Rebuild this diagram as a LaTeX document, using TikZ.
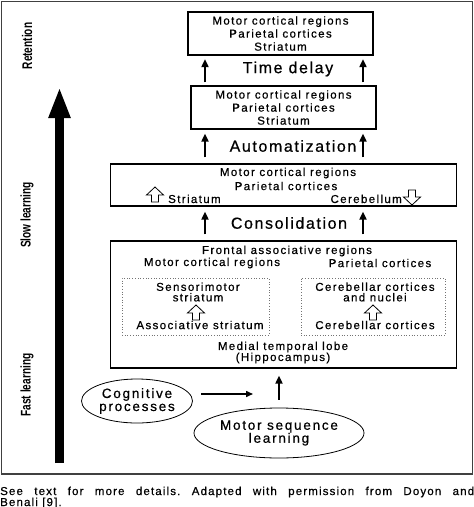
\documentclass[tikz,border=0pt]{standalone}
\usepackage{fontspec}
\setmainfont{Liberation Sans}
\newfontfamily\boxfont{Liberation Sans}[LetterSpace=12, FakeBold=0.6]
\newfontfamily\widefont{Liberation Sans}[LetterSpace=10, FakeBold=0.6]
\newfontfamily\ovalfont{Liberation Sans}[LetterSpace=13, FakeBold=0.6]
\newfontfamily\sidefont{Liberation Sans}[FakeStretch=0.72]
\usetikzlibrary{arrows.meta, positioning, shapes.geometric}

\tikzset{
	hollowup/.pic={
		\draw[line width=0.8pt, fill=white] (-3.5,0) -- (-3.5,-7) -- (-8.5,-7) -- (0,-15) -- (8.5,-7) -- (3.5,-7) -- (3.5,0) -- cycle;
	},
	hollowdown/.pic={
		\draw[line width=0.8pt, fill=white] (-3.5,0) -- (-3.5,7) -- (-8.5,7) -- (0,15) -- (8.5,7) -- (3.5,7) -- (3.5,0) -- cycle;
	}
}

\begin{document}
\begin{tikzpicture}[
		x=1pt, y=-1pt,
		region/.style={
			draw,
			line width=1.2pt,
			inner sep=0pt,
			align=center,
			font=\boxfont\fontsize{11.5}{13}\selectfont
		},
		subregion/.style={
			draw=black!55,
			dotted,
			line width=0.7pt,
			minimum height=57pt,
			inner sep=0pt
		},
		label/.style={
			inner sep=0pt,
			align=center,
			font=\boxfont\fontsize{11.5}{10.5}\selectfont
		},
		stage/.style={
			inner sep=0pt,
			font=\widefont\fontsize{16}{16}\selectfont
		},
		process/.style={
			draw,
			ellipse,
			line width=0.8pt,
			inner sep=0pt,
			align=center,
			font=\ovalfont\fontsize{13.5}{13}\selectfont
		},
		phase/.style={
			rotate=90,
			inner sep=0pt,
			font=\sidefont\bfseries\fontsize{14}{14}\selectfont
		},
		uparrow/.style={-{Triangle[length=8pt, width=7pt]}, line width=1.8pt}
		]
		
		\useasboundingbox (0,0) rectangle (474,507);
		\draw[line width=1.3pt, black!75] (1.5,1.2) rectangle (472.6,474);
		
		% stages, from late to early
		\node[region, minimum width=185pt, minimum height=43pt] (retained) at (280.5,33.5) {Motor cortical regions\\Parietal cortices\\Striatum};
		\node[region, minimum width=185pt, minimum height=43pt] (automatic) at (283.5,107.5) {Motor cortical regions\\Parietal cortices\\Striatum};
		\node[region, minimum width=346pt, minimum height=42pt] (consolidated) at (283.7,185) {};
		\node[region, minimum width=346pt, minimum height=127pt] (early) at (283.7,304.5) {};
		
		\node[label] (cons1) at (288,173) {Motor cortical regions};
		\node[label] (cons2) at (286,186) {Parietal cortices};
		\node[label, anchor=base west] (cons3) at (168,203) {Striatum};
		\node[label, anchor=base east] (cons4) at (402,203) {Cerebellum};
		\pic at (155,202) {hollowup};
		\pic at (412,190) {hollowdown};
		
		\node[label] (early1) at (287,251) {Frontal associative regions};
		\node[label] (early2) at (212,263) {Motor cortical regions};
		\node[label] (early3) at (380,263) {Parietal cortices};
		\node[subregion, minimum width=147pt] (striat) at (195.5,306.5) {};
		\node[subregion, minimum width=144pt] (cereb) at (373,306.5) {};
		\node[label] (striat1) at (198,292) {Sensorimotor\\striatum};
		\pic at (196,320) {hollowup};
		\node[label] (striat2) at (200,325) {Associative striatum};
		\node[label] (cereb1) at (375,292) {Cerebellar cortices\\and nuclei};
		\pic at (373,320) {hollowup};
		\node[label] (cereb2) at (375,325) {Cerebellar cortices};
		\node[label, font=\boxfont\fontsize{11.5}{11}\selectfont] (mtl) at (283,352.5) {Medial temporal lobe\\(Hippocampus)};
		
		\node[stage] (delay) at (288,69) {Time delay};
		\node[stage] (autom) at (293,146) {Automatization};
		\node[stage] (consol) at (289,223) {Consolidation};
		
		\node[process, minimum width=111pt, minimum height=44pt] (cognitive) at (137,401) {Cognitive\\processes};
		\node[process, minimum width=170pt, minimum height=50pt] (sequence) at (279,433) {Motor sequence\\learning};
		
		\coordinate (lft) at (205,0);
		\coordinate (rgt) at (363,0);
		\draw[uparrow, shorten <=3pt, shorten >=3.5pt] (automatic.north -| lft) -- (retained.south -| lft);
		\draw[uparrow, shorten <=3pt, shorten >=3.5pt] (automatic.north -| rgt) -- (retained.south -| rgt);
		\draw[uparrow, shorten <=6pt, shorten >=4pt] (consolidated.north -| lft) -- (automatic.south -| lft);
		\draw[uparrow, shorten <=6pt, shorten >=4pt] (consolidated.north -| rgt) -- (automatic.south -| rgt);
		\draw[uparrow, shorten <=6pt, shorten >=5pt] (early.north -| lft) -- (consolidated.south -| lft);
		\draw[uparrow, shorten <=6pt, shorten >=5pt] (early.north -| rgt) -- (consolidated.south -| rgt);
		
		\coordinate (cogend) at (253,394);
		\coordinate (cogstart) at (201,394);
		\draw[-{Triangle[length=7pt, width=6pt]}, line width=1.5pt] (cogstart) -- (cogend);
		\draw[uparrow, shorten <=8pt, shorten >=7pt] (sequence.north) -- (early.south -| sequence.north);
		
		% time axis
		\coordinate (axbot) at (59.5,463);
		\coordinate (axtop) at (59.5,87);
		\draw[line width=9.5pt, -{Triangle[length=31pt, width=20pt]}] (axbot) -- (axtop);
		\node[phase] (ret) at (27,46) {Retention};
		\node[phase] (slow) at (27,215) {Slow learning};
		\node[phase] (fast) at (27,385) {Fast learning};
		
		\node[anchor=north west, inner sep=0pt, text width=474pt, align=justify, font=\frenchspacing\widefont\fontsize{11.5}{11}\selectfont] (caption) at (0,486.5) {See text for more details. Adapted with permission from Doyon and\linebreak Benali [9].};
		
	\end{tikzpicture}
\end{document}
